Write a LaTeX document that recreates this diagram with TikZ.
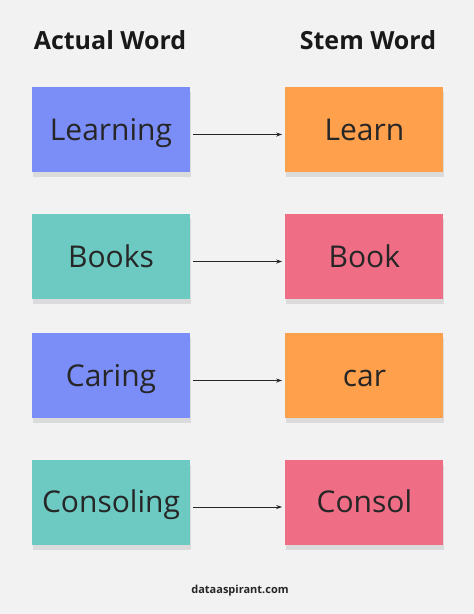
\documentclass[tikz,border=0pt]{standalone}
\usepackage{fontspec}
\setmainfont{Open Sans}
\usetikzlibrary{positioning,shadows,arrows.meta}
\definecolor{bgcol}{HTML}{F2F2F2}
\definecolor{noteblue}{HTML}{7B8DF7}
\definecolor{noteteal}{HTML}{6CCAC2}
\definecolor{noteorange}{HTML}{FFA04C}
\definecolor{notepink}{HTML}{F06D86}
\begin{document}
\begin{tikzpicture}[x=1pt,y=-1pt,
    note/.style={minimum width=158pt,minimum height=85pt,inner sep=0pt,
      text height=26pt,text depth=5pt,
      font=\fontsize{30}{34}\selectfont,text=black!85,
      drop shadow={opacity=.2,shadow xshift=1pt,shadow yshift=-5pt}},
    head/.style={font=\bfseries\fontsize{25}{29}\selectfont,text=black!90},
    stemarrow/.style={-{Stealth[length=6pt,width=4pt]},line width=0.8pt,draw=black!85}]
    \fill[bgcol] (0,0) rectangle (474,614);
    \node[head] (actual) at (110,40) {Actual Word};
    \node[head] (stem) at (368,40) {Stem Word};
    \node[note,fill=noteblue] (learning) at (111,129.5) {Learning};
    \node[note,fill=noteteal] (books) at (111,256.5) {Books};
    \node[note,fill=noteblue] (caring) at (111,375.5) {Caring};
    \node[note,fill=noteteal] (consoling) at (111,502) {Consoling};
    \node[note,fill=noteorange,right=95pt of learning] (learn) {Learn};
    \node[note,fill=notepink,right=95pt of books] (book) {Book};
    \node[note,fill=noteorange,right=95pt of caring] (car) {car};
    \node[note,fill=notepink,right=95pt of consoling] (consol) {Consol};
    \foreach \a/\b in {learning/learn,books/book,caring/car,consoling/consol}
    \draw[stemarrow] ([xshift=3pt,yshift=-5pt]\a.east) -- ([xshift=-3pt,yshift=-5pt]\b.west);
    \node[font=\bfseries\fontsize{11}{13}\selectfont,text=black!85] (site) at (240,591) {dataaspirant.com};
\end{tikzpicture}
\end{document}
